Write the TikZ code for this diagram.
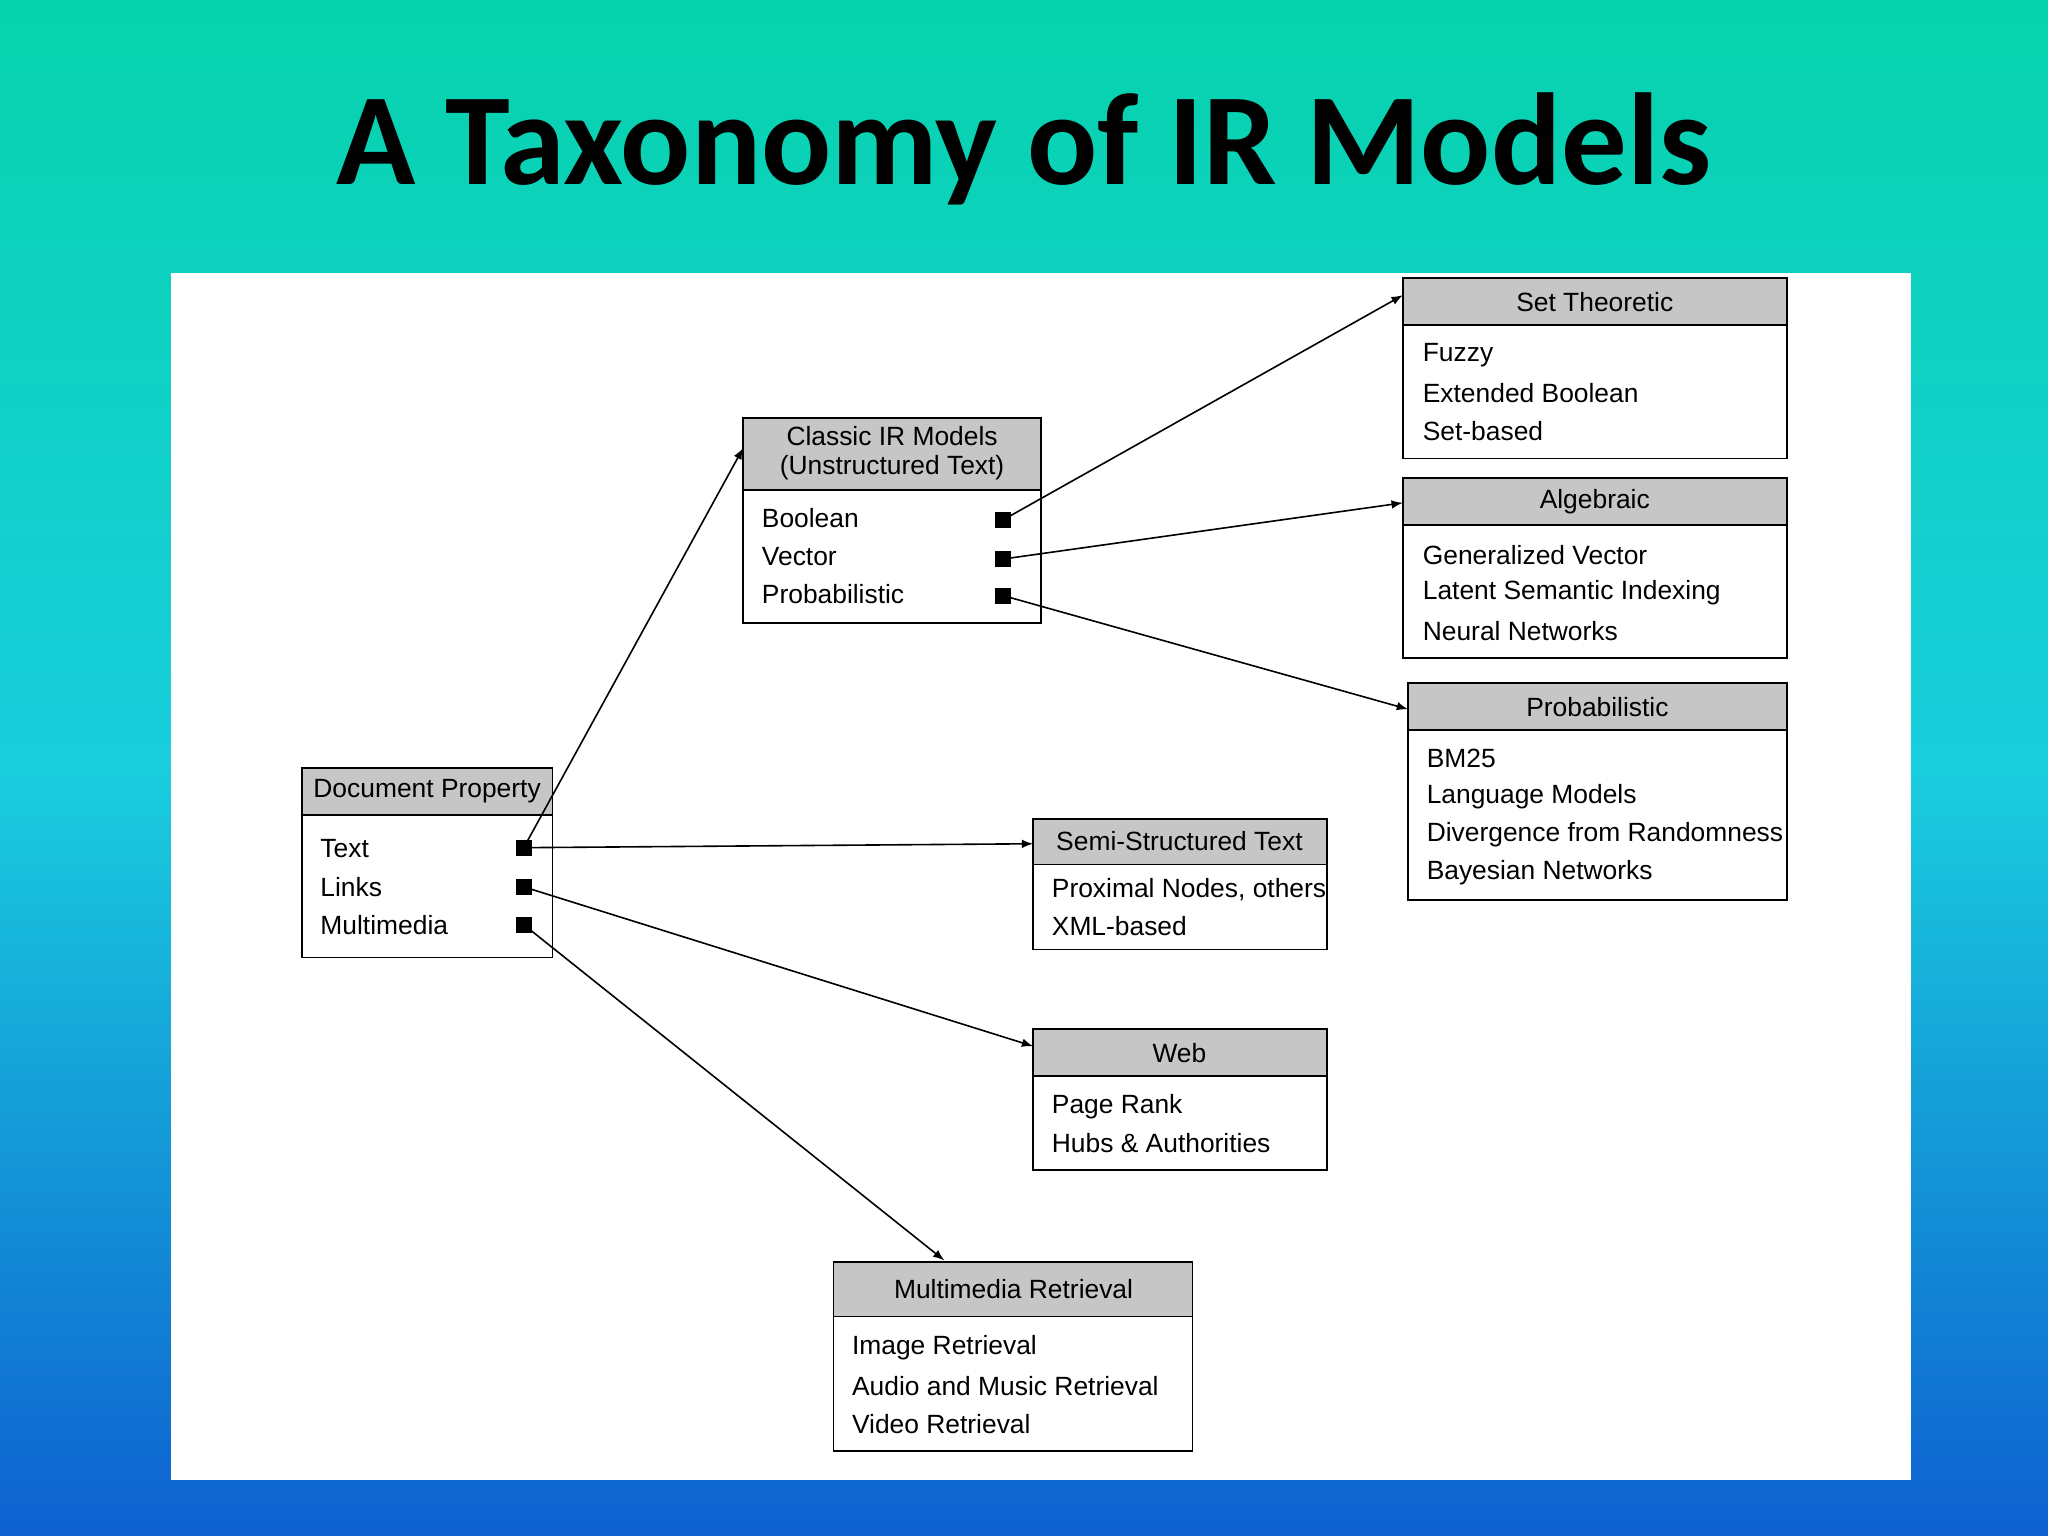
\documentclass[tikz,border=0pt]{standalone}
\usepackage{fontspec}
\setmainfont{Liberation Sans}
\newfontfamily\titlefont{Carlito}
\begin{document}
\begin{tikzpicture}[x=0.02cm,y=-0.02cm,
  hdr/.style={draw=black,fill=gray!45,line width=0.7pt},
  bdy/.style={draw=black,fill=white,line width=0.7pt},
  itm/.style={anchor=west,inner sep=0pt,font=\fontsize{11.5}{13}\selectfont},
  ttl/.style={inner sep=0pt,font=\fontsize{11.5}{13}\selectfont,align=center},
  sq/.style={fill=black,minimum size=7pt,inner sep=0pt},
  arr/.style={-latex,line width=0.7pt}]
\shade[top color={rgb,255:red,6;green,211;blue,172},bottom color={rgb,255:red,14;green,96;blue,208},middle color={rgb,255:red,26;green,206;blue,222}] (0,0) rectangle (1568,1176);
\useasboundingbox (0,0) rectangle (1568,1176);
\node[font=\titlefont\bfseries\fontsize{57}{60}\selectfont] (title) at (784,114) {A Taxonomy of IR Models};
\fill[white] (131,209) rectangle (1463,1133);
% Classic
\draw[hdr] (569,320) rectangle (797,375); \draw[bdy] (569,375) rectangle (797,477);
\node[ttl] (clt) at (683,347) {Classic IR Models\\(Unstructured Text)};
\coordinate (cl) at (569,343);
\node[itm] at (583,397) {Boolean}; \node[itm] at (583,426) {Vector}; \node[itm] at (583,455) {Probabilistic};
\node[sq] (sb) at (768,398) {}; \node[sq] (sv) at (768,428) {}; \node[sq] (sp) at (768,456) {};
% Set theoretic
\draw[hdr] (1074,213) rectangle (1368,249); \draw[bdy] (1074,249) rectangle (1368,351);
\node[ttl] (st) at (1221,231) {Set Theoretic}; \coordinate (stin) at (1074,226);
\node[itm] at (1089,272) {Fuzzy}; \node[itm] at (1089,301) {Extended Boolean}; \node[itm] at (1089,330) {Set-based};
% Algebraic
\draw[hdr] (1074,366) rectangle (1368,402); \draw[bdy] (1074,402) rectangle (1368,504);
\node[ttl] (al) at (1221,384) {Algebraic}; \coordinate (alin) at (1074,385);
\node[itm] at (1089,425) {Generalized Vector}; \node[itm] at (1089,454) {Latent Semantic Indexing}; \node[itm] at (1089,483) {Neural Networks};
% Probabilistic
\draw[hdr] (1078,523) rectangle (1368,559); \draw[bdy] (1078,559) rectangle (1368,689);
\node[ttl] (pr) at (1223,541) {Probabilistic}; \coordinate (prin) at (1078,543);
\node[itm] at (1092,581) {BM25}; \node[itm] at (1092,610) {Language Models}; \node[itm] at (1092,639) {Divergence from Randomness}; \node[itm] at (1092,668) {Bayesian Networks};
% Document property
\draw[hdr] (231,588) rectangle (423,624); \draw[bdy] (231,624) rectangle (423,733);
\node[ttl] (dp) at (327,606) {Document Property};
\node[itm] at (245,650) {Text}; \node[itm] at (245,679) {Links}; \node[itm] at (245,708) {Multimedia};
\node[sq] (dt) at (401,649) {}; \node[sq] (dl) at (401,679) {}; \node[sq] (dm) at (401,708) {};
% Semi-structured
\draw[hdr] (791,627) rectangle (1016,662); \draw[bdy] (791,662) rectangle (1016,727);
\node[ttl] (ss) at (903,644) {Semi-Structured Text}; \coordinate (ssin) at (791,646);
\node[itm] at (805,681) {Proximal Nodes, others}; \node[itm] at (805,709) {XML-based};
% Web
\draw[hdr] (791,788) rectangle (1016,824); \draw[bdy] (791,824) rectangle (1016,896);
\node[ttl] (wb) at (903,806) {Web}; \coordinate (wbin) at (791,801);
\node[itm] at (805,847) {Page Rank}; \node[itm] at (805,875) {Hubs \& Authorities};
% Multimedia
\draw[hdr] (638,966) rectangle (913,1008); \draw[bdy] (638,1008) rectangle (913,1111);
\node[ttl] (mm) at (776,987) {Multimedia Retrieval}; \coordinate (mmin) at (723,965);
\node[itm] at (652,1032) {Image Retrieval}; \node[itm] at (652,1061) {Audio and Music Retrieval}; \node[itm] at (652,1090) {Video Retrieval};
% arrows
\draw[arr] (dt.center) -- (cl);
\draw[arr] (dt.center) -- (ssin);
\draw[arr] (dl.center) -- (wbin);
\draw[arr] (dm.center) -- (mmin);
\draw[arr] (sb.center) -- (stin);
\draw[arr] (sv.center) -- (alin);
\draw[arr] (sp.center) -- (prin);
\end{tikzpicture}
\end{document}
